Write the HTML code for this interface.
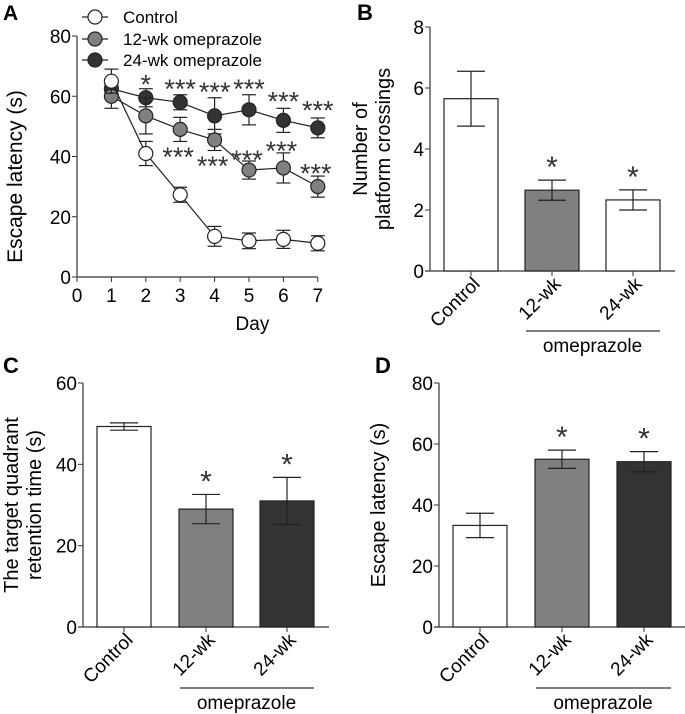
<!DOCTYPE html>
<html><head><meta charset="utf-8"><style>
body{margin:0;background:#fff}
svg{display:block;font-family:"Liberation Sans",Arial,sans-serif}
</style></head><body>
<svg id="fig" width="685" height="714" viewBox="0 0 685 714"></svg>
<script>
// Panel A data
const days=[1,2,3,4,5,6,7];
const ctrlMean=[65,41,27.3,13.5,12,12.5,11.2];
const ctrlErr=[4,4,2.5,3.3,2.6,3,2.5];
const wk12Mean=[60,53.5,49,45.5,35.5,36.2,30];
const wk12Err=[4,6,4,3.5,3,5,3.5];
const wk24Mean=[62.5,59.5,58,53.5,55.5,52,49.5];
const wk24Err=[1,3,2.5,6,5,4,3.3];
const aTicksX=[0,1,2,3,4,5,6,7];
const aTicksY=[0,20,40,60,80];
const sigTop=["*","***","***","***","***","***"];
const sigTopVal=[65.5,64,63,64,60,57];
const sigBot=["***","***","***","***","***"];
const sigBotVal=[41.5,38.5,40.5,43.5,36];
// Panel B
const groups=["Control","12-wk","24-wk"];
const bMean=[5.65,2.65,2.33];
const bErr=[0.9,0.33,0.33];
const bTicks=[0,2,4,6,8];
// Panel C
const cMean=[49.3,29,31];
const cErr=[0.9,3.6,5.8];
const cTicks=[0,20,40,60];
// Panel D
const dMean=[33.3,55,54.2];
const dErr=[4,3,3.3];
const dTicks=[0,20,40,60,80];

const svg=document.getElementById('fig');
const NS='http://www.w3.org/2000/svg';
function el(tag,at,parent){const e=document.createElementNS(NS,tag);for(const k in at)e.setAttribute(k,at[k]);(parent||svg).appendChild(e);return e;}
function txt(s,at,parent){const e=el('text',at,parent);e.textContent=s;return e;}

// ---------- Panel A ----------
const gA=el('g',{});


const ax0=77,axStep=34.4,ay0=277,ay80=36;
const xA=d=>ax0+d*axStep;
const yA=v=>ay0+(ay80-ay0)*v/80;
txt('A',{x:3,y:20,'font-size':21,'font-weight':'bold'},gA);
el('line',{x1:ax0,y1:ay80,x2:ax0,y2:ay0,stroke:'#333','stroke-width':1.2},gA);
el('line',{x1:ax0,y1:ay0,x2:xA(7),y2:ay0,stroke:'#333','stroke-width':1.2},gA);
aTicksY.forEach(v=>{el('line',{x1:ax0-5,y1:yA(v),x2:ax0,y2:yA(v),stroke:'#333'},gA);
 const t=txt(v,{x:ax0-6,y:yA(v)+7,'font-size':19,'text-anchor':'end'},gA);});
aTicksX.forEach(v=>{el('line',{x1:xA(v),y1:ay0,x2:xA(v),y2:ay0+5,stroke:'#333'},gA);
 const t=txt(v,{x:xA(v),y:ay0+25,'font-size':19,'text-anchor':'middle'},gA);});
const xt=txt('Day',{x:xA(5.1),y:330,'font-size':19,'text-anchor':'middle'},gA);
const yt=txt('Escape latency (s)',{x:0,y:0,'font-size':21,'text-anchor':'middle',transform:`translate(22,${(ay0+ay80)/2+20}) rotate(-90)`},gA);
function series(mean,err,fill,name){
 const g=el('g',{},gA);
 el('polyline',{points:days.map((d,i)=>xA(d)+','+yA(mean[i])).join(' '),fill:'none',stroke:'#222','stroke-width':1.2},g);
 days.forEach((d,i)=>{const x=xA(d);
  el('line',{x1:x,y1:yA(mean[i]+err[i]),x2:x,y2:yA(mean[i]-err[i]),stroke:'#222','stroke-width':1.2},g);
  [mean[i]+err[i],mean[i]-err[i]].forEach(v=>el('line',{x1:x-7,y1:yA(v),x2:x+7,y2:yA(v),stroke:'#222','stroke-width':1.2},g));
  const c=el('circle',{cx:x,cy:yA(mean[i]),r:7,fill:fill,stroke:'#222','stroke-width':1.2},g);});
}
series(wk24Mean,wk24Err,'#333','series-24wk');
series(wk12Mean,wk12Err,'#808080','series-12wk');
series(ctrlMean,ctrlErr,'#fff','series-control');
sigTop.forEach((s,i)=>{const d=days[i+1];const t=txt(s,{x:xA(d),y:yA(sigTopVal[i])+14,'font-size':27,'text-anchor':'middle',fill:'#333'},gA);});
sigBot.forEach((s,i)=>{const d=days[i+2];const t=txt(s,{x:xA(d)-2,y:yA(sigBotVal[i])+14,'font-size':27,'text-anchor':'middle',fill:'#333'},gA);});
// legend
[['Control','#fff',17],['12-wk omeprazole','#808080',39],['24-wk omeprazole','#333',60]].forEach(([lab,f,y])=>{
 const g=el('g',{},gA);
 el('line',{x1:82,y1:y,x2:108,y2:y,stroke:'#222','stroke-width':1.2},g);
 el('circle',{cx:95,cy:y,r:7,fill:f,stroke:'#222','stroke-width':1.2},g);
 txt(lab,{x:123,y:y+6,'font-size':17},g);});

// ---------- bar panels ----------
function barPanel(o){
 const g=el('g',{});
 const y=v=>o.y0+(o.yTop-o.y0)*v/o.max;
 txt(o.letter,{x:o.lx,y:o.ly,'font-size':22,'font-weight':'bold'},g);
 el('line',{x1:o.ax,y1:y(o.max),x2:o.ax,y2:o.y0,stroke:'#333','stroke-width':1.2},g);
 el('line',{x1:o.ax-5,y1:o.y0,x2:o.axEnd,y2:o.y0,stroke:'#333','stroke-width':1.2},g);
 o.ticks.forEach(v=>{el('line',{x1:o.ax-5,y1:y(v),x2:o.ax,y2:y(v),stroke:'#333'},g);
  const t=txt(v,{x:o.ax-6,y:y(v)+7,'font-size':19,'text-anchor':'end'},g);});
 o.mean.forEach((m,i)=>{const x=o.bx[i],w=54,cx=x+w/2;
  const r=el('rect',{x:x,y:y(m),width:w,height:o.y0-y(m),fill:o.fills[i],stroke:'#222','stroke-width':1.2},g);
  const e=o.err[i];
  el('line',{x1:cx,y1:y(m+e),x2:cx,y2:y(m-e),stroke:'#222','stroke-width':1.2},g);
  [m+e,m-e].forEach(v=>el('line',{x1:cx-14,y1:y(v),x2:cx+14,y2:y(v),stroke:'#222','stroke-width':1.2},g));
  el('line',{x1:cx,y1:o.y0,x2:cx,y2:o.y0+5,stroke:'#333'},g);
  const lab=txt(groups[i],{x:0,y:0,'font-size':19,'text-anchor':'end',transform:`translate(${cx+10},${o.y0+14}) rotate(-45)`},g);
  if(i>0){const s=txt('*',{x:cx,y:y(m+e)-3,'font-size':30,'text-anchor':'middle',fill:'#333'},g);}
 });
 el('line',{x1:o.bx[1]+1,y1:o.omY,x2:o.bx[2]+54,y2:o.omY,stroke:'#333','stroke-width':1.2},g);
 txt('omeprazole',{x:(o.bx[1]+o.bx[2]+54)/2,y:o.omY+21,'font-size':19,'text-anchor':'middle'},g);
 o.title.forEach((s,k)=>{const t=txt(s,{x:0,y:0,'font-size':20,'text-anchor':'middle',transform:`translate(${o.tx+k*23},${(o.y0+y(o.max))/2}) rotate(-90)`},g);});
}
barPanel({name:'panel-b-bar-chart',letter:'B',lx:357,ly:20,ax:430,axEnd:675,y0:271,yTop:27,max:8,ticks:bTicks,mean:bMean,err:bErr,bx:[444,525,606],fills:['#fff','#808080','#fff'],omY:331,title:['Number of','platform crossings'],tx:367});
barPanel({name:'panel-c-bar-chart',letter:'C',lx:3,ly:373,ax:83,axEnd:329,y0:627,yTop:383,max:60,ticks:cTicks,mean:cMean,err:cErr,bx:[97,179,260],fills:['#fff','#808080','#333'],omY:688,title:['The target quadrant','retention time (s)'],tx:18});
barPanel({name:'panel-d-bar-chart',letter:'D',lx:375,ly:373,ax:439,axEnd:685,y0:627,yTop:383,max:80,ticks:dTicks,mean:dMean,err:dErr,bx:[453,535,617],fills:['#fff','#808080','#333'],omY:688,title:['Escape latency (s)'],tx:385});
</script>
</body></html>
